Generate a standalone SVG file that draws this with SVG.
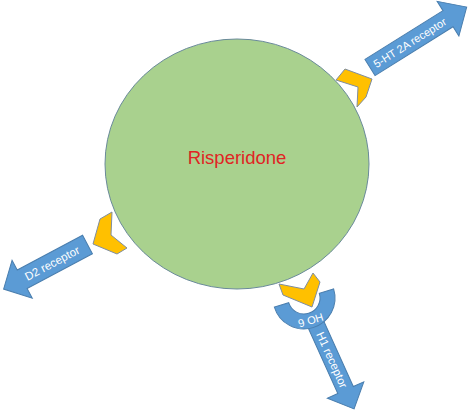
<svg xmlns="http://www.w3.org/2000/svg" width="474" height="412" viewBox="0 0 474 412">
<style>
.arrow{fill:#5b9bd5;stroke:#4a7eae;stroke-width:1}
.chev{fill:#ffc000;stroke:#7f8ea0;stroke-width:1;stroke-linejoin:miter}
.lbl{font-family:"Liberation Sans",Arial,sans-serif;fill:#ffffff;text-anchor:middle}
</style>
<rect width="474" height="412" fill="#ffffff"/>
<g id="connectors">
<g id="arrow-5ht2a" transform="translate(370,67.5) rotate(-32)">
<path class="arrow" d="M0,-9.5 L92,-9.5 L92,-20.5 L114,0 L92,20.5 L92,9.5 L0,9.5 Z"/>
<text class="lbl" x="47" y="4" font-size="11">5-HT 2A receptor</text>
</g>
<g id="arrow-d2" transform="translate(87.5,244.5) rotate(152)">
<path class="arrow" d="M0,-10.5 L74,-10.5 L74,-21.5 L95,0 L74,21.5 L74,10.5 L0,10.5 Z"/>
<text class="lbl" transform="translate(40,0) rotate(180)" y="4" font-size="11.5">D2 receptor</text>
</g>
<g id="arrow-h1" transform="translate(304,298) rotate(65.7)">
<path class="arrow" d="M20,-8.5 L101,-8.5 L101,-20 L121.7,0 L101,20 L101,8.5 L20,8.5 Z"/>
<text class="lbl" x="68" y="4" font-size="11.5">H1 receptor</text>
</g>
</g>
<g id="risperidone">
<ellipse cx="237" cy="164" rx="132" ry="125" fill="#a9d18e" stroke="#6a8a9a" stroke-width="1"/>
<text x="237" y="164" font-family="'Liberation Sans',Arial,sans-serif" font-size="18.5" fill="#e02424" text-anchor="middle">Risperidone</text>
</g>
<g id="cup-9oh" transform="translate(304,298) rotate(-17)">
<path class="arrow" d="M-31,0 A31,31 0 0 0 31,0 L16,0 A16,16 0 0 1 -16,0 Z"/>
<text class="lbl" x="0" y="27" font-size="11">9 OH</text>
</g>
<g id="chevron-5ht2a">
<polygon class="chev" points="336,80 345,69 372,79 366,97 357,107 358,87"/>
</g>
<g id="chevron-d2">
<polygon class="chev" points="100,219 112,212 111,235 127,248 117,254 93,244"/>
</g>
<g id="chevron-h1">
<polygon class="chev" points="279,284 283,295 312,307 320,282 313,273 304,289"/>
</g>
</svg>
